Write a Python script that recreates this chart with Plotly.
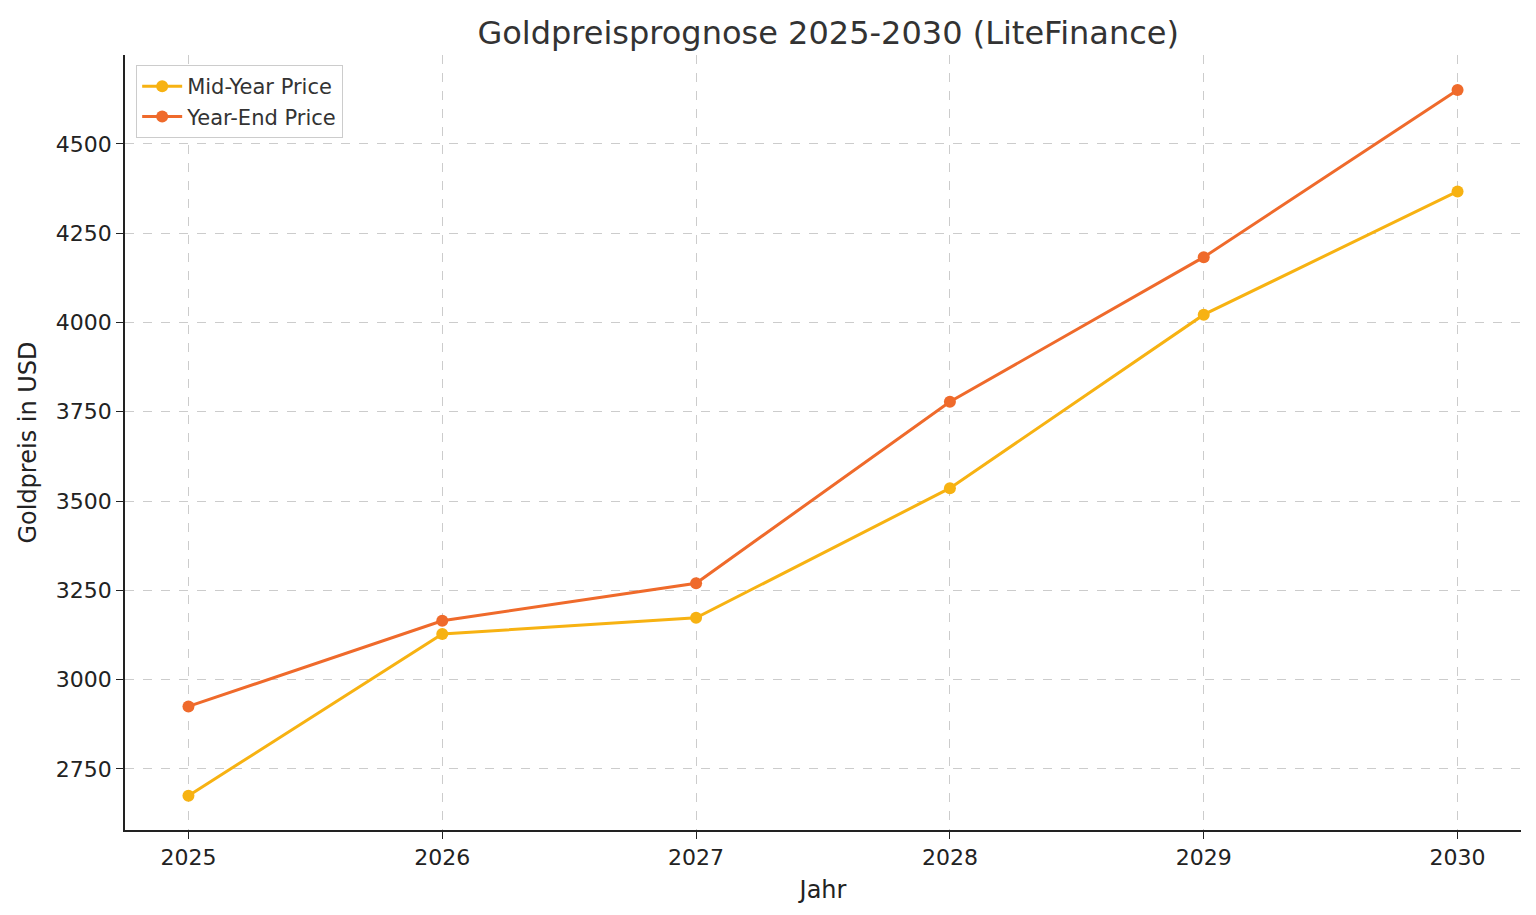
import plotly.graph_objects as go

years = [2025, 2026, 2027, 2028, 2029, 2030]
mid_year = [2675, 3128, 3173, 3536, 4022, 4367]
year_end = [2925, 3165, 3270, 3778, 4183, 4651]
y_ticks = [2750, 3000, 3250, 3500, 3750, 4000, 4250, 4500]

fig = go.Figure()
fig.add_trace(go.Scatter(x=years, y=mid_year, mode="lines+markers", name="Mid-Year Price",
                         line=dict(color="#F7B212", width=3), marker=dict(size=12)))
fig.add_trace(go.Scatter(x=years, y=year_end, mode="lines+markers", name="Year-End Price",
                         line=dict(color="#EF6A2B", width=3), marker=dict(size=12)))
axis_common = dict(showgrid=True, gridcolor="#cccccc", griddash="dash", gridwidth=1,
                   showline=True, linecolor="#222", linewidth=1.5, ticks="outside",
                   ticklen=7, tickcolor="#222", tickfont=dict(size=22, color="#222"), zeroline=False)
fig.update_layout(
    width=1536, height=915, paper_bgcolor="white", plot_bgcolor="white",
    font=dict(family="DejaVu Sans", color="#222"),
    title=dict(text="Goldpreisprognose 2025-2030 (LiteFinance)", x=0.534, y=0.985,
               xanchor="center", yanchor="top", font=dict(size=32, color="#333")),
    margin=dict(l=117, r=23, t=47, b=93),
    xaxis=dict(axis_common, range=[2024.75, 2030.25], tickvals=years,
               title=dict(text="Jahr", font=dict(size=24), standoff=12)),
    yaxis=dict(axis_common, range=[2579, 4749], tickvals=y_ticks,
               title=dict(text="Goldpreis in USD", font=dict(size=24), standoff=12)),
    legend=dict(x=0.008, y=0.987, xanchor="left", yanchor="top", bgcolor="white",
                bordercolor="#ccc", borderwidth=1, font=dict(size=21, color="#333"),
                tracegroupgap=4, itemwidth=40),
)
fig.write_html("out.html")
